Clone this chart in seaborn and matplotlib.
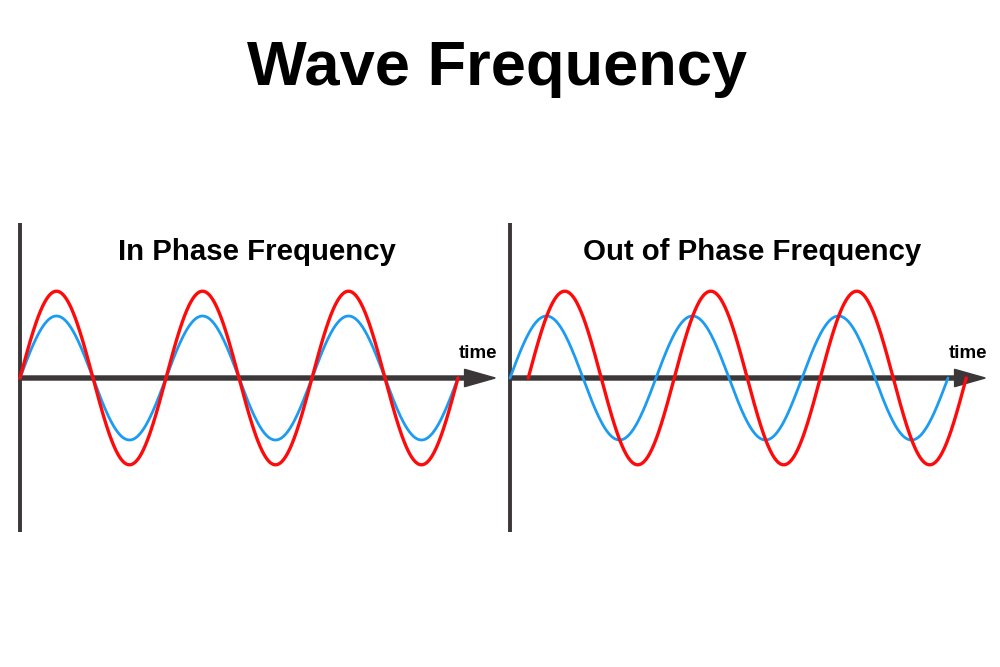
import numpy as np
import pandas as pd
import matplotlib.pyplot as plt
import seaborn as sns

cycles = 3
red_amp = 1.4      # outer (red) wave
blue_amp = 1.0     # inner (blue) wave
phase_lag = 0.125  # red lags blue by this fraction of a cycle in the right panel
panel_titles = ['In Phase Frequency', 'Out of Phase Frequency']
axis_label = 'time'

red = '#ff0a0a'
blue = '#1c9bf2'
dark = '#3b3738'

sns.set_theme(style='white')
plt.rcParams['font.family'] = ['Liberation Sans', 'DejaVu Sans']

t = np.linspace(0, cycles, 600)
rows = []
for p, lag in enumerate([0.0, phase_lag]):
    rows.append(pd.DataFrame({'t': t, 'y': blue_amp * np.sin(2 * np.pi * t), 'wave': 'blue', 'panel': p}))
    rows.append(pd.DataFrame({'t': t + lag, 'y': red_amp * np.sin(2 * np.pi * t), 'wave': 'red', 'panel': p}))
df = pd.concat(rows, ignore_index=True)

fig = plt.figure(figsize=(10, 6.67), dpi=100)

# one cycle = 146 px, one amplitude unit = 62 px
xmax, ylim = 3.3, 2.6
w = xmax * 146 / 1000
h = 2 * ylim * 62 / 667
bottom = (667 - 378 - ylim * 62) / 667
origins = [20, 510]
title_x = [1.62, 1.66]

for p, ox in enumerate(origins):
    ax = fig.add_axes([ox / 1000, bottom, w, h])
    sub = df[df['panel'] == p]
    sns.lineplot(data=sub, x='t', y='y', hue='wave', hue_order=['blue', 'red'],
                 palette={'blue': blue, 'red': red}, ax=ax, legend=False,
                 sort=False, estimator=None, zorder=3)
    for line, lw in zip(ax.lines, [2.0, 2.4]):
        line.set_linewidth(lw)
        line.set_clip_on(False)
    ax.set_xlim(0, xmax)
    ax.set_ylim(-ylim, ylim)
    ax.axis('off')

    # axes drawn as in the diagram
    ax.plot([0, 0], [-2.48, 2.5], color=dark, lw=2.8, clip_on=False, zorder=2,
            solid_capstyle='butt')
    ax.arrow(0, 0, 3.255, 0, width=0.065, head_width=0.28, head_length=0.21,
             length_includes_head=True, color=dark, zorder=2, clip_on=False)
    ax.text(3.14, 0.40, axis_label, ha='center', va='center', fontsize=13.5,
            fontweight='bold', color='black')
    ax.text(title_x[p], 2.04, panel_titles[p], ha='center', va='center',
            fontsize=21.2, fontweight='bold', color='black')

fig.text(0.497, 1 - 68 / 667, 'Wave Frequency', ha='center', va='center',
         fontsize=45.5, fontweight='bold', color='black')

fig.savefig('out.png', dpi=100, facecolor='white')
